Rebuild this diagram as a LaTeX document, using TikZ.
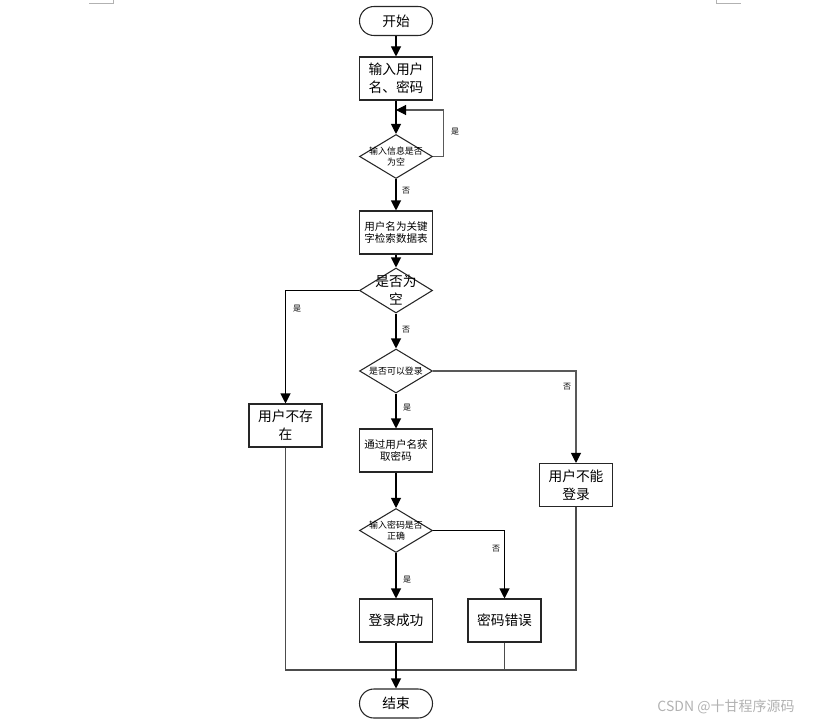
\documentclass[tikz,border=0pt]{standalone}
\usepackage{fontspec}
\newfontfamily\cjk{Noto Sans CJK SC}
\usetikzlibrary{arrows.meta,shapes.geometric,positioning}

\begin{document}
\begin{tikzpicture}[x=0.75pt, y=-0.75pt,
        proc/.style={draw=black!85, line width=0.8pt, minimum width=54.75pt, minimum height=32.25pt,
                inner sep=1pt, align=center, font=\cjk\fontsize{10.3}{13.5}\selectfont},
        procs/.style={proc, font=\cjk\fontsize{7.9}{9.5}\selectfont},
        term/.style={proc, minimum height=21.75pt, rounded corners=10.8pt},
        decide/.style={draw=black!85, line width=0.8pt, diamond, minimum width=54.75pt,
                minimum height=33pt, inner sep=0pt},
        dtext/.style={align=center, inner sep=0pt, font=\cjk\fontsize{6.7}{8}\selectfont},
        dbig/.style={dtext, font=\cjk\fontsize{10.3}{13.5}\selectfont},
        tag/.style={font=\cjk\fontsize{6}{7}\selectfont, inner sep=0pt},
        flow/.style={line width=0.8pt, -{Triangle[length=7.5pt, width=7.5pt, color=black]}},
        gflow/.style={flow, draw=black!65},
        mergeline/.style={line width=0.8pt, draw=black!70},
        cornermark/.style={draw=black!30, line width=0.75pt}]
        \useasboundingbox (0, 0) rectangle (813, 724);
        \draw[cornermark] (89, 4) -- (113, 4) -- (113, 0);
        \draw[cornermark] (716, 0) -- (716, 4) -- (741, 4);

        % main column
        \node[term] (start) at (396, 21) {开始};
        \node[proc] (input) at (396, 78.5) {输入用户\\名、密码};
        \node[decide, label={[dtext]center:{输入信息是否\\为空}}] (qempty) at (396, 156.5) {};
        \node[procs] (lookup) at (396, 232.5) {用户名为关键\\字检索数据表};
        \node[decide, minimum height=33.75pt, label={[dbig]center:{是否为\\空}}] (qnone) at (396, 290.5) {};
        \node[decide, label={[dtext]center:是否可以登录}] (qlogin) at (396, 371) {};
        \node[procs] (getpw) at (396, 450.5) {通过用户名获\\取密码};
        \node[decide, label={[dtext]center:{输入密码是否\\正确}}] (qpw) at (396, 530.5) {};
        \node[proc] (ok) at (396, 620.5) {登录成功};
        \node[term] (stop) at (396, 703.5) {结束};

        % side boxes
        \node[proc] (nouser) at (285.5, 425.5) {用户不存\\在};
        \node[proc] (denied) at (576, 485) {用户不能\\登录};
        \node[proc] (wrong) at (504.5, 620.5) {密码错误};

        \coordinate (loopin) at (396, 110);
        \coordinate (merge) at (396, 670);

        \draw[flow] (start) -- (input);
        \draw[flow] (input) -- (qempty);
        \draw[gflow] (qempty.east) -- ++(10, 0) |- (loopin);
        \draw[flow] (qempty) -- (lookup);
        \draw[flow] (lookup) -- (qnone);
        \draw[flow] (qnone.west) -| (nouser.north);
        \draw[flow] (qnone) -- (qlogin);
        \draw[gflow] (qlogin.east) -| (denied.north);
        \draw[flow] (qlogin) -- (getpw);
        \draw[flow] (getpw) -- (qpw);
        \draw[flow] (qpw.east) -| (wrong.north);
        \draw[flow] (qpw) -- (ok);
        \draw[mergeline] (nouser.south) |- (merge) -| (denied.south);
        \draw[mergeline] (wrong.south) -- (wrong.south |- merge);
        \draw[flow] (ok) -- (stop);

        \node[tag] (yes1) at (455, 132) {是};
        \node[tag] (no1) at (406, 191) {否};
        \node[tag] (yes2) at (297, 309) {是};
        \node[tag] (no2) at (406, 330) {否};
        \node[tag] (no3) at (567, 387) {否};
        \node[tag] (yes3) at (407, 408) {是};
        \node[tag] (no4) at (496, 549) {否};
        \node[tag] (yes4) at (407, 580) {是};

        \node[font=\cjk\fontsize{10.5}{12}\selectfont, text=black!30, inner sep=0pt] (wm) at (726, 707) {CSDN @十甘程序源码};
\end{tikzpicture}
\end{document}
